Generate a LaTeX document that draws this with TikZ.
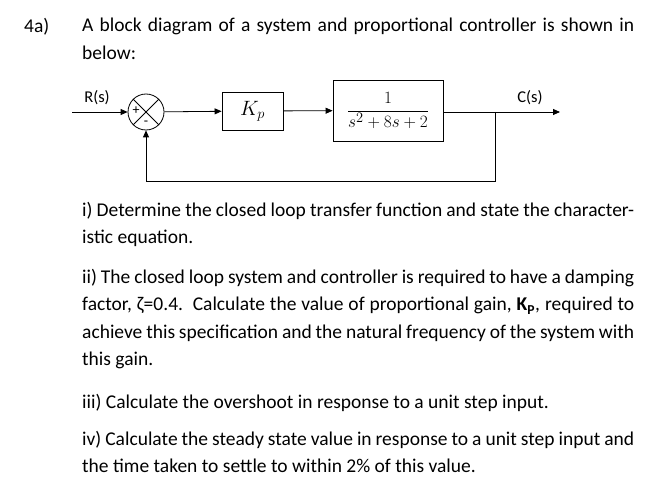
\documentclass[tikz,border=0pt]{standalone}
\usepackage{amsmath}
\usepackage{fontspec}
\setmainfont{Carlito}
\usetikzlibrary{arrows.meta}
\begin{document}
\begin{tikzpicture}[x=1pt,y=-1pt,
  sig/.style={thick,-{Triangle[length=7pt,width=6pt]}},
  para/.style={anchor=north west,inner sep=0,text width=552pt,align=justify,font=\fontsize{19.5}{27.5}\selectfont},
  lbl/.style={font=\fontsize{16.5}{18}\selectfont,inner sep=0}]
\useasboundingbox (0,0) rectangle (671,494);
\node[anchor=west,inner sep=0,font=\fontsize{19.5}{27.5}\selectfont] (q) at (24,27) {4a)};
\node[para,anchor=north west] (intro) at (82,18) {A block diagram of a system and proportional controller is shown in below:};
% diagram
\coordinate (in) at (72,112);
\node[draw,thick,circle,minimum size=36pt,inner sep=0] (sum) at (146,112) {};
\draw[thick] (sum.north west) -- (sum.south east) (sum.north east) -- (sum.south west);
\node[lbl,font=\fontsize{14}{14}\selectfont] (plus) at (136,111) {+};
\node[lbl,font=\fontsize{14}{14}\selectfont] (minus) at (146,123) {-};
\node[draw,thick,minimum width=61pt,minimum height=38pt] (kp) at (252.5,111) {\fontsize{20}{24}\selectfont$K_p$};
\node[draw,thick,minimum width=110pt,minimum height=61pt,inner sep=0] (g) at (388,110.5) {\fontsize{19}{22}\selectfont$\dfrac{1}{s^2+8s+2}$};
\coordinate (br) at (495,112);
\coordinate (out) at (560,112);
\coordinate (fb1) at (495,181);
\coordinate (fb2) at (146,181);
\draw[sig] (in) -- (sum);
\draw[sig] (sum) -- (kp);
\draw[sig] (kp) -- (g);
\draw[sig] (g.east|-br) -- (out);
\draw[sig] (br) -- (fb1) -- (fb2) -- (sum);
\node[lbl] (r) at (97,98) {R(s)};
\node[lbl] (c) at (530,98) {C(s)};
% questions
\node[para] (p1) at (82,202) {i) Determine the closed loop transfer function and state the characteristic equation.};
\node[para] (p2) at (82,269) {ii) The closed loop system and controller is required to have a damping factor, ζ=0.4.\ \ Calculate the value of proportional gain, \textbf{K\textsubscript{P}}, required to achieve this specification and the natural frequency of the system with this gain.};
\node[para] (p3) at (82,394) {iii) Calculate the overshoot in response to a unit step input.};
\node[para] (p4) at (82,431) {iv) Calculate the steady state value in response to a unit step input and the time taken to settle to within 2\% of this value.};
\end{tikzpicture}
\end{document}
